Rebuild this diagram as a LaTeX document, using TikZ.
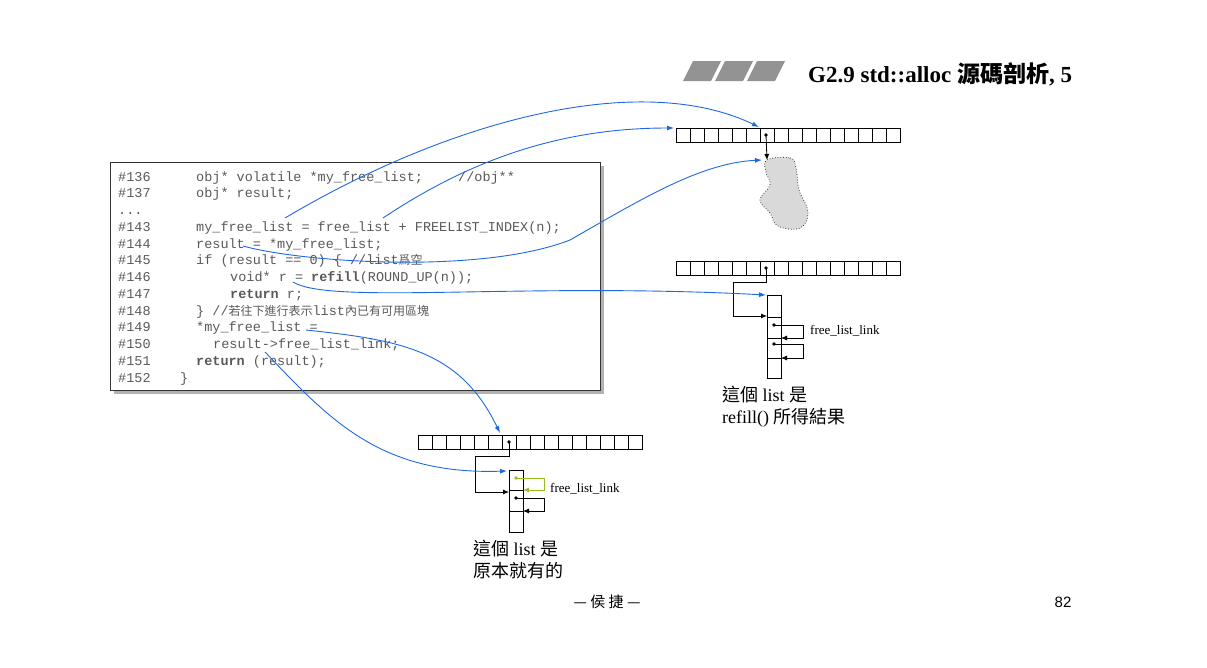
\documentclass[tikz,border=0pt]{standalone}
\usepackage{fontspec}
\setmainfont{Liberation Serif}
\newfontfamily\cjk{Noto Sans CJK TC}
\newfontfamily\mono{Liberation Mono}
\newfontfamily\sans{Liberation Sans}
\usetikzlibrary{arrows.meta}
\definecolor{arrblue}{RGB}{30,105,225}
\definecolor{codegray}{RGB}{90,90,90}
\definecolor{lgreen}{RGB}{150,190,30}
\newcommand{\cz}[1]{{\cjk\fontsize{12}{12}\selectfont #1}}
\begin{document}
\begin{tikzpicture}[x=1pt,y=-1pt,
  code/.style={anchor=base west,inner sep=0,font=\mono\fontsize{13.5}{14}\selectfont,text=codegray},
  lbl/.style={anchor=base west,inner sep=0,font=\fontsize{13}{14}\selectfont},
  big/.style={anchor=base west,inner sep=0,font=\fontsize{18}{20}\selectfont},
  blue/.style={draw=arrblue,line width=0.9pt,-{Latex[length=7pt,width=5pt]}},
  blk/.style={draw=black,line width=0.8pt,-{Latex[length=6pt,width=5pt]}},
  cell/.style={draw=black,line width=0.8pt}]
\useasboundingbox (0,0) rectangle (1207,667);
% title
\foreach \i in {0,1,2}{
  \fill[gray!85] (683+32*\i,81) -- (693+32*\i,61) -- (721+32*\i,61) -- (711+32*\i,81) -- cycle;}
\node[anchor=base west,inner sep=0,font=\bfseries\fontsize{23}{24}\selectfont] (title) at (808,82) {G2.9 std::alloc {\cjk 源碼剖析}, 5};
% code box
\fill[gray!60] (114,166) rectangle (604,394);
\draw[fill=white,line width=1pt,draw=black!80] (110,162) rectangle (600,390);
\foreach \n [count=\k from 0] in {\#136,\#137,{.{}.{}.},\#143,\#144,\#145,\#146,\#147,\#148,\#149,\#150,\#151,\#152}
  {\node[code] (ln\k) at (118,{181+16.75*\k}) {\n};}
\def\L#1{181+16.75*#1}
\node[code] (c0) at (196,{\L0}) {obj* volatile *my\_free\_list;};
\node[code] (c0b) at (458,{\L0}) {//obj**};
\node[code] (c1) at (196,{\L1}) {obj* result;};
\node[code] (c3) at (196,{\L3}) {my\_free\_list = free\_list + FREELIST\_INDEX(n);};
\node[code] (c4) at (196,{\L4}) {result = *my\_free\_list;};
\node[code] (c5) at (196,{\L5}) {if (result == 0) \{ //list\cz{爲空}};
\node[code] (c6) at (230,{\L6}) {void* r = {\bfseries refill}(ROUND\_UP(n));};
\node[code] (c7) at (230,{\L7}) {{\bfseries return} r;};
\node[code] (c8) at (196,{\L8}) {\} //\cz{若往下進行表示}list\cz{內已有可用區塊}};
\node[code] (c9) at (196,{\L9}) {*my\_free\_list =};
\node[code] (c10) at (213,{\L10}) {result->free\_list\_link;};
\node[code] (c11) at (196,{\L11}) {{\bfseries return} (result);};
\node[code] (c12) at (180,{\L12}) {\}};
% array 1
\foreach \i in {0,...,15}{\draw[cell] (676+14*\i,128) rectangle +(14,14);}
\fill (766,135) circle (1.8);
\coordinate (d1) at (766,135);
% blob
\draw[dotted,fill=gray!30,line width=0.7pt] plot[smooth cycle,tension=0.7] coordinates{
 (767,160) (790,158) (796,168) (799,190) (808,212) (800,228) (778,226) (770,213) (760,200) (770,185) (766,172)};
\coordinate (blobtop) at (767,160);
\draw[blk] (d1) -- (blobtop);
% array 2
\foreach \i in {0,...,15}{\draw[cell] (676+14*\i,261) rectangle +(14,14);}
\fill (766,268) circle (1.8);
\coordinate (d2) at (766,268);
\draw[cell] (767,295) rectangle (781,378);
\draw[cell] (767,317) -- (781,317) (767,338) -- (781,338) (767,358) -- (781,358);
\draw[blk] (d2) -- (766,282) -- (733,282) -- (733,316) -- (767,316);
\fill (774,325) circle (1.8);
\fill (774,344) circle (1.8);
\draw[blk] (774,325) -- (803,325) -- (803,338) -- (781,338);
\draw[blk] (774,344) -- (803,344) -- (803,358) -- (781,358);
\node[lbl] (fll2) at (810,334) {free\_list\_link};
\node[big] (t2a) at (722,401) {{\cjk 這個} list {\cjk 是}};
\node[big] (t2b) at (722,423) {refill() {\cjk 所得結果}};
% array 3
\foreach \i in {0,...,15}{\draw[cell] (418+14*\i,435) rectangle +(14,14);}
\fill (509,442) circle (1.8);
\coordinate (d3) at (509,442);
\draw[cell] (509,470) rectangle (523,532);
\draw[cell] (509,490) -- (523,490) (509,511) -- (523,511);
\draw[blk] (d3) -- (509,456) -- (475,456) -- (475,492) -- (509,492);
\fill[lgreen] (516,478) circle (1.8);
\draw[line width=0.8pt,draw=lgreen,-{Latex[length=6pt,width=5pt]}] (516,478) -- (544,478) -- (544,490) -- (523,490);
\fill (516,498) circle (1.8);
\draw[blk] (516,498) -- (544,498) -- (544,511) -- (523,511);
\node[lbl] (fll3) at (550,492) {free\_list\_link};
\node[big] (t3a) at (473,555) {{\cjk 這個} list {\cjk 是}};
\node[big] (t3b) at (473,577) {\cjk 原本就有的};
% footer
\node[inner sep=0,font=\cjk\fontsize{15}{16}\selectfont] (author) at (607,602) {— 侯 捷 —};
\node[inner sep=0,font=\sans\fontsize{15}{16}\selectfont] (page) at (1063,602) {82};
% blue connectors
\coordinate (s1) at (285,218);
\coordinate (s2) at (383,218);
\coordinate (s3) at (243,246);
\coordinate (s4) at (293,282);
\coordinate (s5) at (306,330);
\coordinate (s6) at (265,352);
\draw[blue] (s1) .. controls (450,120) and (640,70) .. (759,127);
\draw[blue] (s2) .. controls (470,160) and (560,128) .. (674,128);
\draw[blue] (s3) .. controls (300,262) and (480,275) .. (570,240) .. controls (640,200) and (700,163) .. (762,160);
\draw[blue] (s4) .. controls (330,305) and (520,282) .. (766,295);
\draw[blue] (s5) .. controls (400,340) and (460,350) .. (500,433);
\draw[blue] (s6) .. controls (330,420) and (380,475) .. (507,471);
\end{tikzpicture}
\end{document}
